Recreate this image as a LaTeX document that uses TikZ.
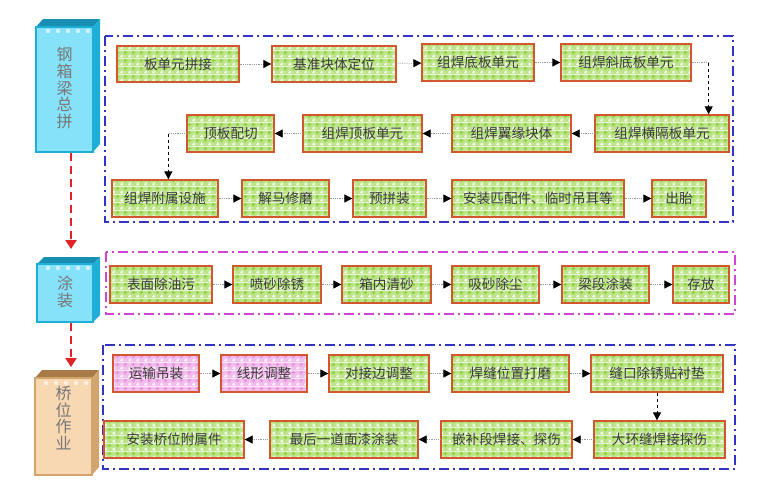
\documentclass[tikz,border=0pt]{standalone}
\usepackage{fontspec}
\setmainfont{Noto Sans CJK SC}
\usetikzlibrary{arrows.meta,calc,patterns.meta}
\definecolor{boxred}{HTML}{D2562E}
\definecolor{gbase}{HTML}{BDE48A}
\definecolor{gdot}{HTML}{8FD13F}
\definecolor{pbase}{HTML}{F2BCEC}
\definecolor{pdot}{HTML}{E792DE}
\definecolor{txt}{HTML}{3A3A3A}
\definecolor{grpblue}{HTML}{3434C4}
\definecolor{grpmag}{HTML}{D046D4}
\definecolor{cyfront}{HTML}{86E2F8}
\definecolor{cyedge}{HTML}{1FAED6}
\definecolor{cytop}{HTML}{178FB2}
\definecolor{tnfront}{HTML}{F8D8B2}
\definecolor{tnedge}{HTML}{D2A46E}
\definecolor{tntop}{HTML}{A87A48}
\definecolor{lbl}{HTML}{767676}
\definecolor{arrred}{HTML}{E02424}
\tikzdeclarepattern{
  name=greendots, type=colored,
  bottom left={(0pt,0pt)}, top right={(8pt,8pt)}, tile size={(8pt,8pt)},
  code={
    \fill[gbase] (0pt,0pt) rectangle (8pt,8pt);
    \fill[white!80!gbase] (2pt,2pt) circle (1.9pt);
    \fill[gdot] (6pt,6pt) circle (1.9pt);
  }
}
\tikzdeclarepattern{
  name=pinkdots, type=colored,
  bottom left={(0pt,0pt)}, top right={(8pt,8pt)}, tile size={(8pt,8pt)},
  code={
    \fill[pbase] (0pt,0pt) rectangle (8pt,8pt);
    \fill[white!80!pbase] (2pt,2pt) circle (1.9pt);
    \fill[pdot] (6pt,6pt) circle (1.9pt);
  }
}
\tikzset{
  stepbox/.style={draw=boxred, line width=1.3pt, fill=gbase, pattern=greendots, inner sep=0pt,
    text=txt, font=\fontsize{13.6}{15}\selectfont},
  pinkbox/.style={stepbox, fill=pbase, pattern=pinkdots},
  dotconn/.style={draw=gray!80, densely dotted, line width=0.8pt,
    -{Triangle[length=8pt,width=8pt,color=black]}},
  dotline/.style={draw=gray!80, densely dotted, line width=0.8pt},
  vconn/.style={draw=black, dashed, line width=0.9pt,
    -{Triangle[length=8pt,width=8pt,color=black]}},
  grp/.style={line width=1.3pt, dash pattern=on 10pt off 4pt on 2pt off 4pt},
  redarr/.style={draw=arrred, line width=2.4pt, dash pattern=on 8pt off 5pt,
    -{Triangle[length=9pt,width=11pt,color=arrred]}},
  blklabel/.style={text=lbl, font=\fontsize{16}{16.8}\selectfont, align=center, inner sep=0pt}
}
\newcommand{\bx}[7][stepbox]{\node[#1, minimum width={#5-#3}, minimum height={#6-#4}] (#2) at ({(#3+#5)/2},{(#4+#6)/2}) {#7};}
\begin{document}
\begin{tikzpicture}[x=1pt,y=-1pt]
\useasboundingbox[fill=white] (0,0) rectangle (760,490);

% group frames
\draw[grp, draw=grpblue] (105,36) rectangle (733,222);
\draw[grp, draw=grpmag] (106,252) rectangle (735,314);
\draw[grp, draw=grpblue] (103,345) rectangle (735,469);

% 3D blocks
% block 1
\fill[cytop] (36,27) -- (43,19) -- (100,19) -- (93,27) -- cycle;
\fill[cyedge] (93,27) -- (100,19) -- (100,144) -- (93,152) -- cycle;
\node[draw=cyedge, line width=2pt, fill=cyfront, minimum width=57, minimum height=125, inner sep=0pt] (blk1) at (64.5,89.5) {};
\foreach \k in {0,...,4} \fill[white, opacity=.6] (48+\k*10,31) circle (2.2);
\node[blklabel] (lbl1) at (64.5,88) {钢\\箱\\梁\\总\\拼};
% block 2
\fill[cytop] (37,264) -- (44,257) -- (100,257) -- (93,264) -- cycle;
\fill[cyedge] (93,264) -- (100,257) -- (100,315) -- (93,322) -- cycle;
\node[draw=cyedge, line width=2pt, fill=cyfront, minimum width=56, minimum height=58, inner sep=0pt] (blk2) at (65,293) {};
\foreach \k in {0,...,4} \fill[white, opacity=.6] (48+\k*10,268) circle (2.2);
\node[blklabel] (lbl2) at (65,292) {涂\\装};
% block 3
\fill[tntop] (35,378) -- (42,370) -- (99,370) -- (92,378) -- cycle;
\fill[tnedge] (92,378) -- (99,370) -- (99,467) -- (92,475) -- cycle;
\node[draw=tnedge, line width=1.5pt, fill=tnfront, minimum width=57, minimum height=97, inner sep=0pt] (blk3) at (63.5,426.5) {};
\foreach \k in {0,...,4} \fill[white, opacity=.6] (46+\k*10,383) circle (2.2);
\node[blklabel] (lbl3) at (63.5,418) {桥\\位\\作\\业};

% red arrows
\coordinate (r1s) at (71,153);
\coordinate (r1e) at (71,249);
\coordinate (r2s) at (71,323);
\coordinate (r2e) at (71,367);
\draw[redarr] (r1s) -- (r1e);
\draw[redarr] (r2s) -- (r2e);

% row 1
\bx{n1}{117}{46}{239}{82}{板单元拼接}
\bx{n2}{272}{46}{396}{82}{基准块体定位}
\bx{n3}{422}{44}{534}{81}{组焊底板单元}
\bx{n4}{561}{44}{691}{81}{组焊斜底板单元}
% row 2
\bx{n5}{595}{115}{729}{152}{组焊横隔板单元}
\bx{n6}{452}{115}{571}{152}{组焊翼缘块体}
\bx{n7}{303}{115}{422}{152}{组焊顶板单元}
\bx{n8}{187}{115}{274}{152}{顶板配切}
% row 3
\bx{n9}{112}{180}{218}{217}{组焊附属设施}
\bx{n10}{242}{180}{329}{217}{解马修磨}
\bx{n11}{353}{180}{426}{217}{预拼装}
\bx{n12}{452}{180}{624}{217}{安装匹配件、临时吊耳等}
\bx{n13}{652}{180}{706}{217}{出胎}
% row 4
\bx{p1}{110}{266}{212}{303}{表面除油污}
\bx{p2}{233}{266}{321}{303}{喷砂除锈}
\bx{p3}{342}{266}{431}{303}{箱内清砂}
\bx{p4}{452}{266}{539}{303}{吸砂除尘}
\bx{p5}{562}{266}{649}{303}{梁段涂装}
\bx{p6}{673}{266}{729}{303}{存放}
% row 5
\bx[pinkbox]{q1}{113}{355}{199}{392}{运输吊装}
\bx[pinkbox]{q2}{221}{355}{307}{392}{线形调整}
\bx{q3}{329}{355}{429}{392}{对接边调整}
\bx{q4}{452}{355}{569}{392}{焊缝位置打磨}
\bx{q5}{591}{355}{723}{392}{缝口除锈贴衬垫}
% row 6
\bx{q6}{594}{421}{725}{458}{大环缝焊接探伤}
\bx{q7}{441}{421}{572}{458}{嵌补段焊接、探伤}
\bx{q8}{270}{421}{418}{458}{最后一道面漆涂装}
\bx{q9}{104}{421}{244}{458}{安装桥位附属件}

% connectors
\draw[dotconn] (n1) -- (n2);
\draw[dotconn] (n2) -- (n3);
\draw[dotconn] (n3) -- (n4);
\coordinate (c1) at ($(n4.east)+(17,0)$);
\draw[dotline] (n4.east) -- (c1);
\draw[vconn] (c1) -- (c1 |- n5.north);
\draw[dotconn] (n5) -- (n6);
\draw[dotconn] (n6) -- (n7);
\draw[dotconn] (n7) -- (n8);
\coordinate (c2) at ($(n8.west)+(-18,0)$);
\draw[dotline] (n8.west) -- (c2);
\draw[vconn] (c2) -- (c2 |- n9.north);
\draw[dotconn] (n9) -- (n10);
\draw[dotconn] (n10) -- (n11);
\draw[dotconn] (n11) -- (n12);
\draw[dotconn] (n12) -- (n13);
\draw[dotconn] (p1) -- (p2);
\draw[dotconn] (p2) -- (p3);
\draw[dotconn] (p3) -- (p4);
\draw[dotconn] (p4) -- (p5);
\draw[dotconn] (p5) -- (p6);
\draw[dotconn] (q1) -- (q2);
\draw[dotconn] (q2) -- (q3);
\draw[dotconn] (q3) -- (q4);
\draw[dotconn] (q4) -- (q5);
\draw[vconn] (q5.south) -- (q5.south |- q6.north);
\draw[dotconn] (q6) -- (q7);
\draw[dotconn] (q7) -- (q8);
\draw[dotconn] (q8) -- (q9);
\end{tikzpicture}
\end{document}
